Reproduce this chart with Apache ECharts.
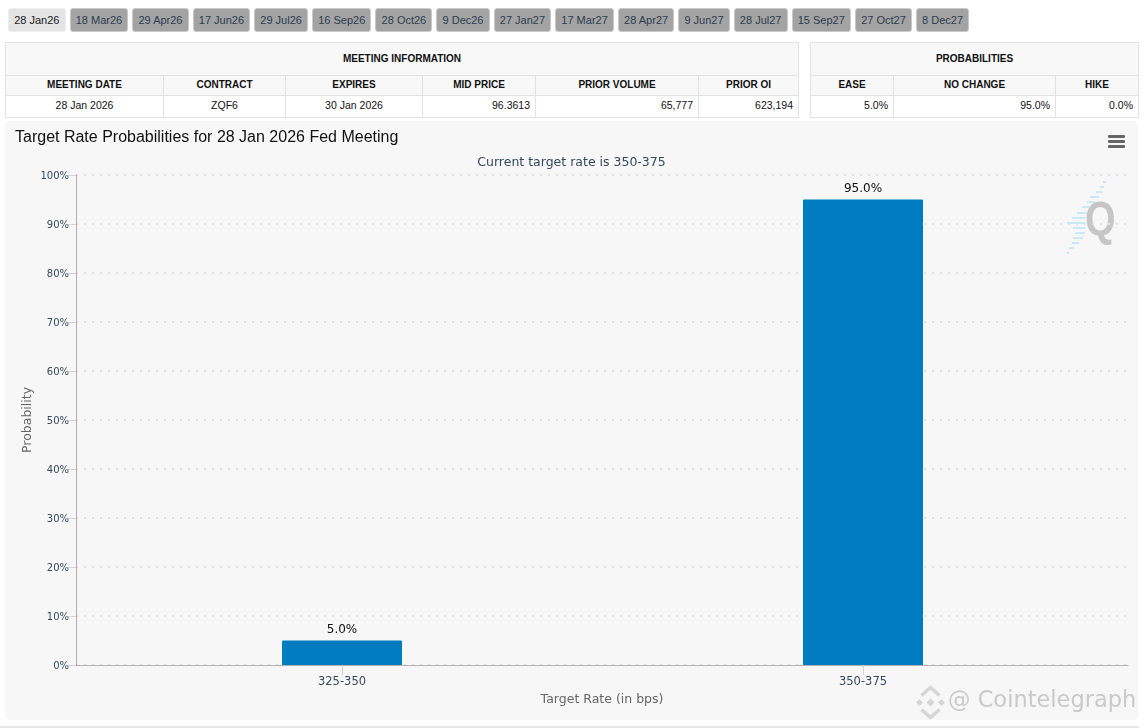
<!DOCTYPE html>
<html><head><meta charset="utf-8">
<script src="https://cdn.jsdelivr.net/npm/echarts@6/dist/echarts.min.js"></script>
<style>
html,body{margin:0;padding:0;background:#fff;width:1145px;height:728px;overflow:hidden;font-family:"Liberation Sans",Arial,sans-serif}
#tabs{position:absolute;left:8px;top:8px;display:flex;gap:4px}
#tabs div{box-sizing:border-box;height:24px;line-height:22px;padding:0 5.15px;font-size:11px;color:#2c3e50;background:#a3a3a3;border:1px solid #c9c9c9;border-radius:3px;white-space:nowrap}
#tabs div.on{background:#e4e4e4;color:#222;border-color:#eee}
table{position:absolute;top:42px;border-collapse:collapse;table-layout:fixed;font-size:10.5px;color:#111}
td{border:1px solid #e2e2e2;padding:0 5px;box-sizing:border-box;white-space:nowrap;overflow:hidden}
td.h{background:#f8f8f8;font-weight:bold;text-align:center;font-size:10px;color:#111;padding-bottom:2px}
td.n{text-align:right;padding-bottom:3px}
td.c{text-align:center;padding-bottom:3px}
#chart{position:absolute;left:5px;top:121px;width:1133px;height:599px;background:#f7f7f7;border-radius:5px;overflow:hidden}
#foot{position:absolute;left:0;top:726px;width:1139px;height:2px;background:#e6e6e6}
</style></head><body>
<div id="tabs"></div>
<table id="t1" style="left:5px;width:793px"></table>
<table id="t2" style="left:810px;width:328px"></table>
<div id="chart"></div>
<div id="foot"></div>
<script>
const tabs = ["28 Jan26","18 Mar26","29 Apr26","17 Jun26","29 Jul26","16 Sep26","28 Oct26","9 Dec26","27 Jan27","17 Mar27","28 Apr27","9 Jun27","28 Jul27","15 Sep27","27 Oct27","8 Dec27"];
const infoHeaders = ["MEETING DATE","CONTRACT","EXPIRES","MID PRICE","PRIOR VOLUME","PRIOR OI"];
const infoValues = ["28 Jan 2026","ZQF6","30 Jan 2026","96.3613","65,777","623,194"];
const infoAlign = ["c","c","c","n","n","n"];
const infoWidths = [158,122,137,113,163,100];
const probHeaders = ["EASE","NO CHANGE","HIKE"];
const probValues = ["5.0%","95.0%","0.0%"];
const probWidths = [83,162,83];
const categories = ["325-350","350-375"];
const probabilities = [5.0,95.0];

document.getElementById('tabs').innerHTML = tabs.map((t,i)=>`<div class="${i===0?'on':''}">${t}</div>`).join('');
function tbl(title,heads,vals,aligns,widths){
  const col = '<colgroup>'+widths.map(w=>`<col style="width:${w}px">`).join('')+'</colgroup>';
  return col+`<tr style="height:33px"><td class="h" colspan="${heads.length}">${title}</td></tr>`+
   `<tr style="height:20px">${heads.map(h=>`<td class="h">${h}</td>`).join('')}</tr>`+
   `<tr style="height:22px">${vals.map((v,i)=>`<td class="${aligns[i]}">${v}</td>`).join('')}</tr>`;
}
document.getElementById('t1').innerHTML = tbl("MEETING INFORMATION",infoHeaders,infoValues,infoAlign,infoWidths);
document.getElementById('t2').innerHTML = tbl("PROBABILITIES",probHeaders,probValues,["n","n","n"],probWidths);

const F = '"DejaVu Sans",sans-serif';
const chart = echarts.init(document.getElementById('chart'),null,{renderer:'canvas'});
// watermark hatch rows: x start, y, width (page pixels)
const hatch = [[1103,181,3],[1100,186,4],[1096,191,6],[1090,196,9],[1087,201,8],[1082,206,7],[1077,212,10],[1072,217,13],[1067,222,18],[1073,227,12],[1075,232,10],[1073,237,10],[1072,242,7],[1069,247,5],[1067,252,2]];
const W = '#d6d6d6';
const ox = 925.5, oy = 581.5;
const chev = pts => ({type:'polyline',x:ox,y:oy,shape:{points:pts},style:{fill:'none',stroke:W,lineWidth:3.5},silent:true});
const dia = (cx,cy,r) => ({type:'polygon',x:ox,y:oy,shape:{points:[[cx,cy-r],[cx+r,cy],[cx,cy+r],[cx-r,cy]]},style:{fill:W},silent:true});
chart.setOption({
  animation:false,
  backgroundColor:'#f7f7f7',
  title:[
    {text:'Target Rate Probabilities for 28 Jan 2026 Fed Meeting',left:5,top:4,textStyle:{fontFamily:'"Liberation Sans"',fontSize:16,fontWeight:'normal',color:'#111'}},
    {text:'Current target rate is 350-375',left:'center',top:30,textStyle:{fontFamily:F,fontSize:12.5,fontWeight:'normal',color:'#34495e'}}
  ],
  grid:[
    {left:71,top:54,width:1052,height:490},
    {left:76.5,top:54,width:1042,height:490}
  ],
  xAxis:[
    {gridIndex:0,type:'category',data:categories,axisLine:{lineStyle:{color:'#b0b0b0',width:1}},axisTick:{show:false},axisLabel:{show:false},
     name:'Target Rate (in bps)',nameLocation:'middle',nameGap:28,nameTextStyle:{fontFamily:F,fontSize:12.5,color:'#666'}},
    {gridIndex:1,type:'category',data:categories,axisLine:{show:false},axisTick:{show:true,alignWithLabel:true,length:10,lineStyle:{color:'#d4d4d4'}},
     axisLabel:{interval:0,margin:11,fontFamily:F,fontSize:11.5,color:'#34495e'}}
  ],
  yAxis:[
    {gridIndex:0,type:'value',min:0,max:100,interval:10,
     axisLine:{show:true,lineStyle:{color:'#b0b0b0',width:1}},axisTick:{show:true,length:8,lineStyle:{color:'#d4d4d4'}},
     axisLabel:{margin:7,formatter:'{v|{value}%}',rich:{v:{padding:[3,0,0,0],fontFamily:F,fontSize:10,color:'#34495e'}}},
     splitLine:{show:true,lineStyle:{color:'#e2e2e2',type:[2,6],width:2}},
     name:'Probability',nameLocation:'middle',nameGap:42,nameMoveOverlap:false,nameTextStyle:{fontFamily:F,fontSize:12.5,color:'#666'}},
    {gridIndex:1,type:'value',min:0,max:100,interval:10,show:false,splitLine:{show:false}}
  ],
  series:[{
    type:'bar',xAxisIndex:1,yAxisIndex:1,data:probabilities,barWidth:120,
    itemStyle:{color:'#007dc0',borderRadius:[1,1,0,0]},
    label:{show:true,position:'top',distance:5,fontFamily:F,fontSize:12,color:'#111',formatter:p=>p.value.toFixed(1)+'%'}
  }],
  graphic:[
    ...[0,5,10].map(d=>({type:'rect',shape:{x:1103,y:14+d,width:17,height:3,r:1},style:{fill:'#666'},silent:true})),
    ...hatch.map(h=>({type:'rect',shape:{x:h[0]-5,y:h[1]-121,width:h[2],height:2},style:{fill:'#c9e9f5'},silent:true})),
    {type:'text',x:1080,y:77,scaleX:0.82,silent:true,style:{text:'Q',fontFamily:'"Liberation Sans"',fontWeight:'bold',fontSize:48,fill:'#c6c6c6'}},
    chev([[-9,-7],[0,-15],[9,-7]]),
    chev([[-9,7],[0,15],[9,7]]),
    dia(0,0,4),dia(-11,0,3.5),dia(11,0,3.5),
    {type:'text',x:943,y:569,silent:true,style:{text:'@ Cointelegraph',fontFamily:F,fontSize:22.5,fill:'#cacaca'}}
  ]
});
</script>
</body></html>
